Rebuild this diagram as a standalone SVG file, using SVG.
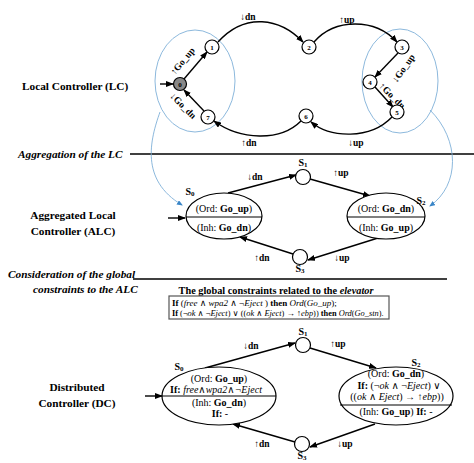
<svg xmlns="http://www.w3.org/2000/svg" width="474" height="463" viewBox="0 0 474 463" font-family="'Liberation Serif', 'DejaVu Serif', serif">
<defs>
<marker id="ah" markerWidth="8" markerHeight="6" refX="7" refY="3" orient="auto" markerUnits="userSpaceOnUse"><path d="M0,0 L8,3 L0,6 Z" fill="#000"/></marker>
<marker id="bh" markerWidth="6" markerHeight="5" refX="5" refY="2.5" orient="auto" markerUnits="userSpaceOnUse"><path d="M0,0 L6,2.5 L0,5 Z" fill="#3a86c8"/></marker>
</defs>
<style>
text{font-family:'Liberation Serif','DejaVu Serif',serif;fill:#000}
.b{font-weight:bold}
.i{font-style:italic}
.sec{font-size:11.3px;font-weight:bold}
.lab{font-size:9.5px;font-weight:bold}
.num{font-size:7px;font-weight:bold}
.st{font-size:10px;font-weight:bold}
.sm{font-size:10px}
.cn{font-size:9px}
.cn2{font-size:8.35px}
.ct{font-size:10.3px;font-weight:bold}
.e{fill:none;stroke:#000;stroke-width:1.4}
.n{fill:#fff;stroke:#000;stroke-width:1.2}
.blue{fill:none;stroke:#7fb0d8;stroke-width:0.9}
</style>
<rect width="474" height="463" fill="#fff"/>

<g id="titles">
<text class="sec" x="22" y="90">Local Controller (LC)</text>
<text class="sec i" x="18" y="158">Aggregation of the LC</text>
<line x1="130" y1="154" x2="474" y2="154" stroke="#000" stroke-width="1.3"/>
<text class="sec" x="73" y="219" text-anchor="middle">Aggregated Local</text>
<text class="sec" x="73" y="235" text-anchor="middle">Controller (ALC)</text>
<text class="sec i" x="8" y="278">Consideration of the global</text>
<text class="sec i" x="33" y="293">constraints to the ALC</text>
<line x1="133" y1="279" x2="447" y2="279" stroke="#000" stroke-width="1.3"/>
<text class="sec" x="77" y="391" text-anchor="middle">Distributed</text>
<text class="sec" x="77" y="407" text-anchor="middle">Controller (DC)</text>
</g>

<g id="lc-groups">
<ellipse class="blue" cx="195" cy="81" rx="40" ry="51"/>
<ellipse class="blue" cx="400" cy="81" rx="38" ry="52"/>
<path class="blue" d="M160,112 C150,140 140,180 182,205" marker-end="url(#bh)"/>
<path class="blue" d="M430,110 C460,140 460,185 430,206" marker-end="url(#bh)"/>
</g>

<g id="connectors">
<line class="e" x1="160" y1="84" x2="173" y2="84" marker-end="url(#ah)"/>
<line class="e" x1="184" y1="79" x2="207" y2="52" marker-end="url(#ah)"/>
<path class="e" d="M218,42 C245,12 280,18 303,42" marker-end="url(#ah)"/>
<path class="e" d="M314,42 C335,18 375,18 397,42" marker-end="url(#ah)"/>
<line class="e" x1="398" y1="53" x2="375" y2="77" marker-end="url(#ah)"/>
<line class="e" x1="375" y1="87" x2="393" y2="107" marker-end="url(#ah)"/>
<path class="e" d="M392,117 C370,140 330,138 311,122" marker-end="url(#ah)"/>
<path class="e" d="M301,121 C280,142 240,140 214,121" marker-end="url(#ah)"/>
<line class="e" x1="204" y1="111" x2="184" y2="90" marker-end="url(#ah)"/>
<line class="e" x1="168" y1="218" x2="185" y2="218" marker-end="url(#ah)"/>
<line class="e" x1="228" y1="193" x2="296" y2="175" marker-end="url(#ah)"/>
<line class="e" x1="310" y1="179" x2="370" y2="196" marker-end="url(#ah)"/>
<line class="e" x1="378" y1="238" x2="308" y2="260" marker-end="url(#ah)"/>
<line class="e" x1="293" y1="254" x2="240" y2="237" marker-end="url(#ah)"/>
<line class="e" x1="145" y1="396" x2="162" y2="396" marker-end="url(#ah)"/>
<line class="e" x1="205" y1="368" x2="295" y2="343" marker-end="url(#ah)"/>
<line class="e" x1="310" y1="348" x2="376" y2="368" marker-end="url(#ah)"/>
<line class="e" x1="375" y1="424" x2="310" y2="447" marker-end="url(#ah)"/>
<line class="e" x1="295" y1="442" x2="233" y2="424" marker-end="url(#ah)"/>
</g>

<g id="lc-labels">
<text class="lab" x="248" y="20" text-anchor="middle">↓dn</text>
<text class="lab" x="347" y="23" text-anchor="middle">↑up</text>
<text class="lab" x="249" y="146" text-anchor="middle">↑dn</text>
<text class="lab" x="356" y="146" text-anchor="middle">↓up</text>
<text class="lab" x="0" y="0" text-anchor="middle" transform="translate(185,63) rotate(-50)">↑Go_up</text>
<text class="lab" x="0" y="0" text-anchor="middle" transform="translate(181,108) rotate(45)">↓Go_dn</text>
<text class="lab" x="0" y="0" text-anchor="middle" transform="translate(406,70) rotate(-55)">↓Go_up</text>
<text class="lab" x="0" y="0" text-anchor="middle" transform="translate(390,98) rotate(45)">↑Go_dn</text>
</g>

<g id="lc0"><circle cx="180" cy="84" r="6.5" fill="#888" stroke="#000" stroke-width="1.2"/><text class="num" x="180" y="86.5" text-anchor="middle">0</text></g>
<g id="lc1"><circle class="n" cx="212" cy="47" r="7"/><text class="num" x="212" y="49.5" text-anchor="middle">1</text></g>
<g id="lc2"><circle class="n" cx="309" cy="47" r="7"/><text class="num" x="309" y="49.5" text-anchor="middle">2</text></g>
<g id="lc3"><circle class="n" cx="402" cy="47" r="7"/><text class="num" x="402" y="49.5" text-anchor="middle">3</text></g>
<g id="lc4"><circle class="n" cx="370" cy="82" r="7"/><text class="num" x="370" y="84.5" text-anchor="middle">4</text></g>
<g id="lc5"><circle class="n" cx="397" cy="112" r="7"/><text class="num" x="397" y="114.5" text-anchor="middle">5</text></g>
<g id="lc6"><circle class="n" cx="306" cy="116" r="7"/><text class="num" x="306" y="118.5" text-anchor="middle">6</text></g>
<g id="lc7"><circle class="n" cx="208" cy="117" r="7"/><text class="num" x="208" y="119.5" text-anchor="middle">7</text></g>

<g id="alc-labels">
<text class="lab" x="255" y="180" text-anchor="middle">↓dn</text>
<text class="lab" x="341" y="176" text-anchor="middle">↑up</text>
<text class="lab" x="342" y="261" text-anchor="middle">↓up</text>
<text class="lab" x="262" y="261" text-anchor="middle">↑dn</text>
</g>
<g id="alc-s0">
<ellipse class="n" cx="224" cy="216" rx="38" ry="23"/>
<line x1="186" y1="217" x2="262" y2="217" stroke="#000" stroke-width="1.2"/>
<text class="sm" x="224" y="212" text-anchor="middle">(Ord: <tspan class="b">Go_up</tspan>)</text>
<text class="sm" x="224" y="231" text-anchor="middle">(Inh: <tspan class="b">Go_dn</tspan>)</text>
<text class="st" x="190" y="195" text-anchor="middle">S<tspan font-size="7" dy="1">0</tspan></text>
</g>
<g id="alc-s1"><circle class="n" cx="303" cy="177" r="7.5"/><text class="st" x="303" y="166" text-anchor="middle">S<tspan font-size="7" dy="1">1</tspan></text></g>
<g id="alc-s2">
<ellipse class="n" cx="386" cy="216" rx="39" ry="23"/>
<line x1="347" y1="217" x2="425" y2="217" stroke="#000" stroke-width="1.2"/>
<text class="sm" x="386" y="212" text-anchor="middle">(Ord: <tspan class="b">Go_dn</tspan>)</text>
<text class="sm" x="386" y="231" text-anchor="middle">(Inh: <tspan class="b">Go_up</tspan>)</text>
<text class="st" x="421" y="204" text-anchor="middle">S<tspan font-size="7" dy="1">2</tspan></text>
</g>
<g id="alc-s3"><circle class="n" cx="300" cy="257" r="7.5"/><text class="st" x="300" y="272" text-anchor="middle">S<tspan font-size="7" dy="1">3</tspan></text></g>

<g id="constraints">
<text class="ct" x="276" y="294" text-anchor="middle">The global constraints related to the <tspan class="i">elevator</tspan></text>
<rect x="169" y="296" width="220" height="23" fill="#fff" stroke="#555" stroke-width="1.2"/>
<text class="cn" x="172" y="306"><tspan class="b">If</tspan> (<tspan class="i">free</tspan> ∧ <tspan class="i">wpa2</tspan> ∧ ¬<tspan class="i">Eject</tspan> ) <tspan class="b">then</tspan> <tspan class="i">Ord</tspan>(<tspan class="i">Go_up</tspan>);</text>
<text class="cn2" x="172" y="316"><tspan class="b">If</tspan> (¬<tspan class="i">ok</tspan> ∧ ¬<tspan class="i">Eject</tspan>) ∨ ((<tspan class="i">ok</tspan> ∧ <tspan class="i">Eject</tspan>) → ↑<tspan class="i">ebp</tspan>))   <tspan class="b">then</tspan> <tspan class="i">Ord</tspan>(<tspan class="i">Go_stn</tspan>).</text>
</g>

<g id="dc-labels">
<text class="lab" x="251" y="349" text-anchor="middle">↓dn</text>
<text class="lab" x="338" y="347" text-anchor="middle">↑up</text>
<text class="lab" x="345" y="447" text-anchor="middle">↓up</text>
<text class="lab" x="262" y="447" text-anchor="middle">↑dn</text>
</g>
<g id="dc-s0">
<ellipse class="n" cx="219" cy="396" rx="57" ry="29"/>
<line x1="162" y1="396" x2="276" y2="396" stroke="#000" stroke-width="1.2"/>
<text class="sm" x="219" y="382" text-anchor="middle">(Ord: <tspan class="b">Go_up</tspan>)</text>
<text class="sm" x="216" y="393" text-anchor="middle"><tspan class="b">If:</tspan> <tspan class="i">free∧wpa2∧¬Eject</tspan></text>
<text class="sm" x="219" y="406" text-anchor="middle">(Inh: <tspan class="b">Go_dn</tspan>)</text>
<text class="sm" x="220" y="417" text-anchor="middle"><tspan class="b">If:</tspan> -</text>
<text class="st" x="179" y="370" text-anchor="middle">S<tspan font-size="7" dy="1">0</tspan></text>
</g>
<g id="dc-s1"><circle class="n" cx="303" cy="345" r="7.5"/><text class="st" x="303" y="335" text-anchor="middle">S<tspan font-size="7" dy="1">1</tspan></text></g>
<g id="dc-s2">
<ellipse class="n" cx="396" cy="396" rx="57" ry="29"/>
<line x1="340" y1="405" x2="452" y2="405" stroke="#000" stroke-width="1.2"/>
<text class="sm" x="396" y="377" text-anchor="middle">(Ord: <tspan class="b">Go_dn</tspan>)</text>
<text class="sm" x="399" y="389" text-anchor="middle"><tspan class="b">If:</tspan>  (¬<tspan class="i">ok</tspan> ∧ ¬<tspan class="i">Eject</tspan>) ∨</text>
<text class="sm" x="397" y="400" text-anchor="middle">((<tspan class="i">ok</tspan> ∧ <tspan class="i">Eject</tspan>)  → ↑<tspan class="i">ebp</tspan>))</text>
<text class="sm" x="396" y="415" text-anchor="middle">(Inh: <tspan class="b">Go_up</tspan>)  <tspan class="b">If:</tspan> -</text>
<text class="st" x="416" y="366" text-anchor="middle">S<tspan font-size="7" dy="1">2</tspan></text>
</g>
<g id="dc-s3"><circle class="n" cx="302" cy="444" r="7.5"/><text class="st" x="302" y="459" text-anchor="middle">S<tspan font-size="7" dy="1">3</tspan></text></g>
</svg>
